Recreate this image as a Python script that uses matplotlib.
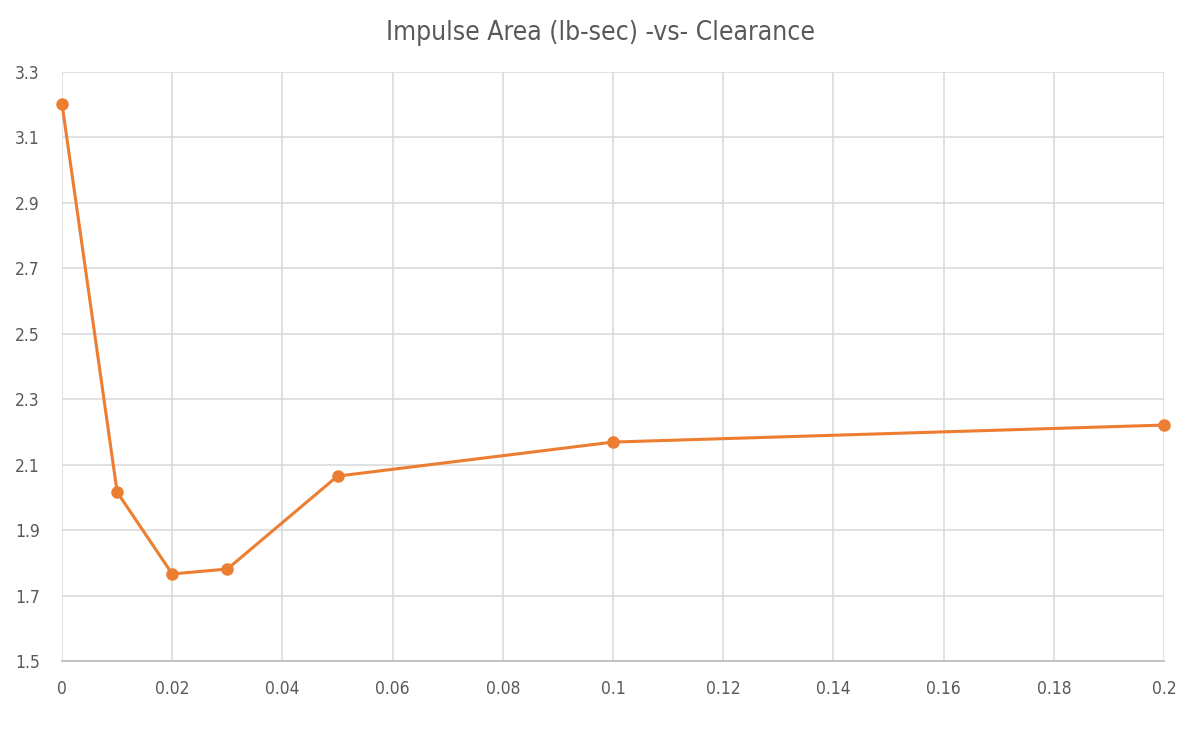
import matplotlib
matplotlib.use("Agg")
import matplotlib.pyplot as plt
import numpy as np

# clearance vs impulse area values
clearance = [0.0, 0.01, 0.02, 0.03, 0.05, 0.1, 0.2]
impulse_area = [3.202, 2.016, 1.766, 1.781, 2.065, 2.169, 2.221]

x_ticks = np.arange(0, 0.2001, 0.02)
y_ticks = np.arange(1.5, 3.3001, 0.2)

plt.rcParams['font.family'] = ['DejaVu Sans']
plt.rcParams['font.stretch'] = 'condensed'
text_col = "#595959"
grid_col = "#d9d9d9"
orange = "#ED7D31"

fig = plt.figure(figsize=(12, 7.31), dpi=100)
ax = fig.add_axes([0.0517, 0.0958, 0.9183, 0.8057])

ax.plot(clearance, impulse_area, color=orange, lw=2.2, marker="o", ms=8,
        clip_on=False, zorder=3)

ax.set_xlim(0, 0.2)
ax.set_ylim(1.5, 3.3)
ax.set_xticks(x_ticks)
ax.set_yticks(y_ticks)
ax.set_xticklabels(["0" if v == 0 else f"{v:g}" for v in np.round(x_ticks, 2)])
ax.set_yticklabels([f"{v:.1f}" for v in y_ticks])

ax.grid(True, color=grid_col, lw=1.1)
ax.set_axisbelow(True)
for s in ["top", "right", "left"]:
    ax.spines[s].set_visible(False)
ax.spines["bottom"].set_color("#bfbfbf")
ax.spines["bottom"].set_linewidth(1.3)

ax.tick_params(length=0, labelsize=12.5, colors=text_col)
ax.tick_params(axis="x", pad=14)
ax.tick_params(axis="y", pad=16)

fig.suptitle("Impulse Area (lb-sec) -vs- Clearance", y=0.972, fontsize=19,
             color=text_col)

fig.savefig("out.png", dpi=100, facecolor="white")
